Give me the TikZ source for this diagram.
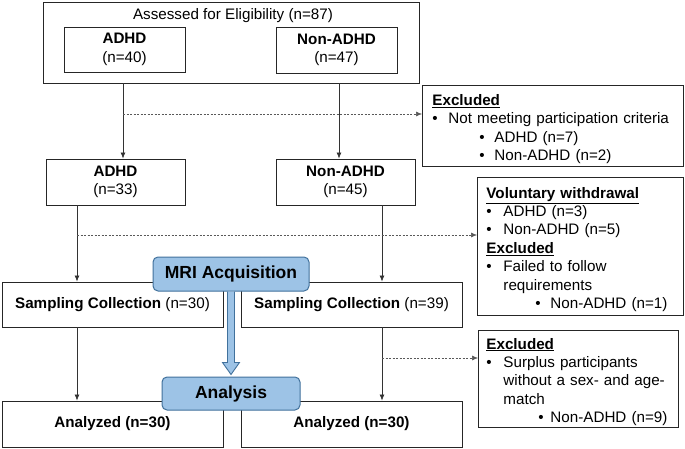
\documentclass[tikz,border=0pt]{standalone}
\usepackage{fontspec}
\setmainfont{Liberation Sans}
\usetikzlibrary{arrows.meta,calc}
\definecolor{mriblue}{RGB}{157,195,230}
\definecolor{mriedge}{RGB}{65,113,156}
\begin{document}
\begin{tikzpicture}[x=1pt,y=-1pt,
  font=\fontsize{15.2}{18.5}\selectfont,
  box/.style={draw=black!85, line width=0.9pt, inner sep=0pt, align=center},
  bluebox/.style={draw=mriedge, fill=mriblue, line width=1pt, rounded corners=5pt,
    font=\fontsize{17.5}{20}\selectfont\bfseries, inner sep=0pt},
  bluearrow/.style={draw=mriedge, fill=mriblue, line width=0.9pt, line join=miter},
  conn/.style={draw=black!80, line width=0.7pt, -{Latex[length=6pt,width=5pt]}},
  dconn/.style={draw=black!65, line width=0.6pt, dash pattern=on 2pt off 1.5pt, -{Latex[length=6pt,width=5pt]}},
  exbox/.style={draw=black!85, line width=0.9pt, align=left, anchor=north west,
    inner ysep=0pt, font=\fontsize{15.2}{18.4}\selectfont}
]
\useasboundingbox (0,0) rectangle (685,449);
\fill[white] (0,0) rectangle (685,449);

% helper x positions of connectors
\coordinate (L1) at (123,0);
\coordinate (R1) at (339,0);
\coordinate (L2) at (77,0);
\coordinate (R2) at (382,0);

% top
\node[box, minimum width=376pt, minimum height=81pt] (outer) at (231,42.5) {};
\node[inner sep=0pt] (title) at (233,15.5) {Assessed for Eligibility (n=87)};
\node[box, minimum width=121pt, minimum height=45pt] (adhd1) at (124.5,49.5) {\textbf{ADHD}\\(n=40)};
\node[box, minimum width=121pt, minimum height=46pt] (nadhd1) at (336.5,50) {\textbf{Non-ADHD}\\(n=47)};

% second level
\node[box, minimum width=139pt, minimum height=46pt] (adhd2) at (115.5,182) {\textbf{ADHD}\\(n=33)};
\node[box, minimum width=139pt, minimum height=46pt] (nadhd2) at (345.5,182) {\textbf{Non-ADHD}\\(n=45)};

% sampling
\node[box, minimum width=221pt, minimum height=45pt] (samp1) at (112.5,304.5) {\textbf{Sampling Collection} (n=30)};
\node[box, minimum width=221pt, minimum height=45pt] (samp2) at (351.5,304.5) {\textbf{Sampling Collection} (n=39)};

% analyzed
\node[box, minimum width=221pt, minimum height=46pt] (anl1) at (112.5,424) {\textbf{Analyzed (n=30)}};
\node[box, minimum width=221pt, minimum height=46pt] (anl2) at (351.5,424) {\textbf{Analyzed (n=30)}};

% excluded boxes
\node[exbox, inner xsep=10pt, text width=241pt, minimum height=81pt] (ex1) at (422,85) {%
\rule{0pt}{17pt}\underline{\textbf{Excluded}}\\
\makebox[16pt][l]{\textbullet}Not meeting participation criteria\\
\hspace*{47pt}\makebox[15pt][l]{\textbullet}ADHD (n=7)\\
\hspace*{47pt}\makebox[15pt][l]{\textbullet}Non-ADHD (n=2)};

\node[exbox, inner xsep=9pt, text width=188pt, minimum height=138pt] (ex2) at (477,177) {%
\rule{0pt}{17pt}\underline{\textbf{Voluntary withdrawal}}\\
\makebox[17pt][l]{\textbullet}ADHD (n=3)\\
\makebox[17pt][l]{\textbullet}Non-ADHD (n=5)\\
\underline{\textbf{Excluded}}\\
\makebox[17pt][l]{\textbullet}Failed to follow\\
\hspace*{17pt}requirements\\
\hspace*{49pt}\makebox[15pt][l]{\textbullet}Non-ADHD (n=1)};

\node[exbox, inner xsep=8pt, text width=184pt, minimum height=97pt] (ex3) at (478,330) {%
\rule{0pt}{17pt}\underline{\textbf{Excluded}}\\
\makebox[17pt][l]{\textbullet}Surplus participants\\
\hspace*{17pt}without a sex- and age-\\
\hspace*{17pt}match\\
\hspace*{52pt}\makebox[12pt][l]{\textbullet}Non-ADHD (n=9)};

% solid connectors
\draw[conn] (outer.south -| L1) -- (adhd2.north -| L1);
\draw[conn] (outer.south -| R1) -- (nadhd2.north -| R1);
\draw[conn] (adhd2.south -| L2) -- (samp1.north -| L2);
\draw[conn] (nadhd2.south -| R2) -- (samp2.north -| R2);
\draw[conn] (samp1.south -| L2) -- (anl1.north -| L2);
\draw[conn] (samp2.south -| R2) -- (anl2.north -| R2);

% dashed connectors
\coordinate (d1) at (123,114);
\coordinate (d2) at (77,235);
\coordinate (d3) at (382,358);
\draw[dconn] (d1) -- (d1 -| ex1.west);
\draw[dconn] (d2) -- (d2 -| ex2.west);
\draw[dconn] (d3) -- (d3 -| ex3.west);

% blue boxes
\node[bluebox, minimum width=156pt, minimum height=34pt] (mri) at (231,274) {MRI Acquisition};
\node[bluebox, minimum width=138pt, minimum height=33pt] (ana) at (231,393.5) {Analysis};

% big arrow
\draw[bluearrow] ($(mri.south)+(-3.5,0)$) -- ($(ana.north)+(-3.5,-14)$) -- ($(ana.north)+(-8.5,-14)$)
  -- ($(ana.north)+(0,-2)$) -- ($(ana.north)+(8.5,-14)$) -- ($(ana.north)+(3.5,-14)$)
  -- ($(mri.south)+(3.5,0)$);
\end{tikzpicture}
\end{document}
